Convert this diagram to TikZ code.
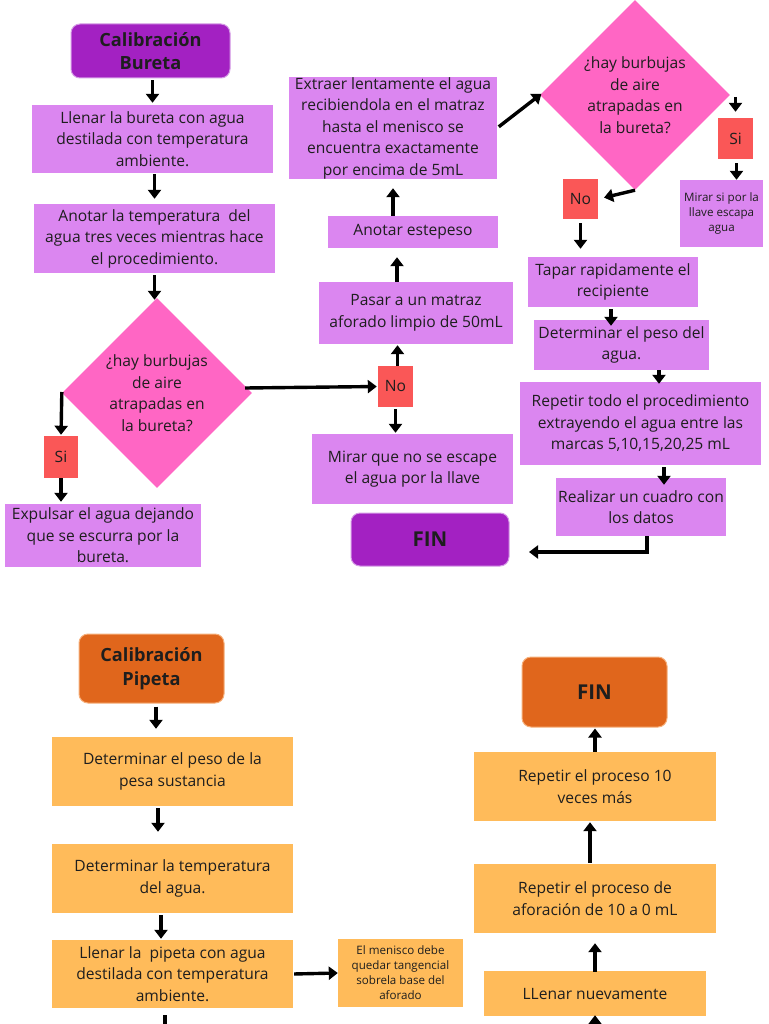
\documentclass[tikz,border=0pt]{standalone}
\usepackage{fontspec}
\setmainfont{Open Sans}
\usetikzlibrary{arrows.meta,shapes.geometric}
\definecolor{tpur}{HTML}{A321C2}
\definecolor{tpurl}{HTML}{D59BE6}
\definecolor{lpur}{HTML}{DB86F0}
\definecolor{pink}{HTML}{FF66C4}
\definecolor{redb}{HTML}{FA5757}
\definecolor{torng}{HTML}{E0661C}
\definecolor{torngl}{HTML}{F6B07C}
\definecolor{lorng}{HTML}{FFBB5A}
\definecolor{txt}{HTML}{1E1E1E}
\begin{document}
\begin{tikzpicture}[x=1pt,y=-1pt,
  sz/.style 2 args={minimum width=#1, minimum height=#2},
  base/.style={rectangle, inner sep=0pt, align=center, text=txt,
    font=\fontsize{15.6}{21.5}\selectfont},
  pbox/.style={base, fill=lpur},
  obox/.style={base, fill=lorng},
  small/.style={font=\fontsize{11.6}{15}\selectfont},
  tbox/.style={base, rounded corners=9pt, line width=1pt,
    font=\bfseries\fontsize{18.2}{23.5}\selectfont},
  ptitle/.style={tbox, fill=tpur, draw=tpurl},
  otitle/.style={tbox, fill=torng, draw=torngl},
  fintext/.style={font=\bfseries\fontsize{20.5}{22}\selectfont},
  dia/.style={diamond, fill=pink, inner sep=0pt, aspect=1, align=center,
    text=txt, font=\fontsize{15.6}{21.5}\selectfont, minimum width=190, minimum height=190},
  lab/.style={base, fill=redb},
  arr/.style={line width=3.4pt, -{Triangle[width=13pt,length=9pt]}}
]
\useasboundingbox[fill=white] (0,0) rectangle (768,1024);

% ---------- Bureta ----------
\node[ptitle, sz={159}{54}] (tB) at (150.5,51) {Calibración\\Bureta};
\node[pbox, sz={241}{68}] (b1) at (152.5,139) {Llenar la bureta con agua\\destilada con temperatura\\ambiente.};
\node[pbox, sz={241}{69}] (b2) at (154.5,238.5) {Anotar la temperatura~ del\\agua tres veces mientras hace\\el procedimiento.};
\node[dia] (d1) at (157,393) {¿hay burbujas\\de aire\\atrapadas en\\la bureta?};
\node[lab, sz={34}{42}] (si1) at (61,457) {Si};
\node[pbox, sz={196}{63}] (e1) at (103,535.5) {Expulsar el agua dejando\\que se escurra por la\\bureta.};
\node[lab, sz={35}{41}] (no1) at (395.5,386.5) {No};
\node[pbox, sz={194}{62}] (p1) at (416,313) {Pasar a un matraz\\aforado limpio de 50mL};
\node[pbox, sz={201}{70}] (m1) at (412.5,469) {Mirar que no se escape\\el agua por la llave};
\node[pbox, sz={170}{32}] (a1) at (413,232) {Anotar estepeso};
\node[pbox, sz={208}{102}] (x1) at (393,128) {Extraer lentamente el agua\\recibiendola en el matraz\\hasta el menisco se\\encuentra exactamente\\por encima de 5mL};
\node[dia] (d2) at (635,95) {¿hay burbujas\\de aire\\atrapadas en\\la bureta?};
\node[lab, sz={35}{40}] (no2) at (580.5,199) {No};
\node[lab, sz={35}{41}] (si2) at (735.5,138.5) {Si};
\node[pbox, small, sz={83}{67}] (ms) at (721.5,213.5) {Mirar si por la\\llave escapa\\agua};
\node[pbox, sz={170}{50}] (t2) at (613,282) {Tapar rapidamente el\\recipiente};
\node[pbox, sz={175}{50}] (dp) at (621.5,345) {Determinar el peso del\\agua.};
\node[pbox, sz={241}{83}] (rp) at (640.5,423.5) {Repetir todo el procedimiento\\extrayendo el agua entre las\\marcas 5,10,15,20,25 mL};
\node[pbox, sz={170}{58}] (rc) at (641,507) {Realizar un cuadro con\\los datos};
\node[ptitle, fintext, sz={158}{53}] (fin1) at (430,539.5) {FIN};

% ---------- Pipeta ----------
\node[otitle, sz={145}{69}] (tP) at (151.5,668.5) {Calibración\\Pipeta};
\node[obox, sz={241}{69}] (q1) at (172.5,771.5) {Determinar el peso de la\\pesa sustancia};
\node[obox, sz={241}{69}] (q2) at (172.5,878.5) {Determinar la temperatura\\del agua.};
\node[obox, sz={241}{68}] (q3) at (172.5,974) {Llenar la~ pipeta con agua\\destilada con temperatura\\ambiente.};
\node[obox, small, sz={125}{68}] (mn) at (400.5,973) {El menisco debe\\quedar tangencial\\sobrela base del\\aforado};
\node[otitle, fintext, sz={145}{70}] (fin2) at (594.5,692) {FIN};
\node[obox, sz={242}{69}] (r1) at (595,786.5) {Repetir el proceso 10\\veces más};
\node[obox, sz={242}{69}] (r2) at (595,898.5) {Repetir el proceso de\\aforación de 10 a 0 mL};
\node[obox, sz={222}{45}] (ln) at (595,993.5) {LLenar nuevamente};

% ---------- connectors (Bureta) ----------
\draw[arr, shorten <=2, shorten >=2] (tB.south -| b1.north) -- (b1.north);
\draw[arr, shorten <=1, shorten >=5] (b2.north |- b1.south) -- (b2.north);
\draw[arr, shorten <=2, shorten >=-2] (b2.south) -- (b2.south |- d1.north);
\draw[arr, shorten <=-1, shorten >=1] (d1.west) -- (si1.north);
\draw[arr, shorten >=2] (si1.south) -- (si1.south |- e1.north);
\draw[arr, shorten >=1] ([shift={(-7,-5)}]d1.east) -- (no1.west);
\draw[arr, shorten >=1] ([xshift=2]no1.north) -- ([xshift=2]no1.north |- p1.south);
\draw[arr, shorten <=2, shorten >=1] (no1.south) -- (no1.south |- m1.north);
\draw[arr, shorten >=9] ([xshift=-19]p1.north) -- ([xshift=-19]p1.north |- a1.south);
\draw[arr, shorten >=9] (a1.north -| x1.south) -- (x1.south);
\draw[arr, shorten <=2, shorten >=-2] (x1.east) -- (d2.west);
\draw[arr, shorten >=6] (d2.south) -- (no2.east);
\draw[arr, shorten <=4, shorten >=8] (no2.south) -- (no2.south |- t2.north);
\draw[arr, shorten <=2, shorten >=6] (d2.east -| si2.north) -- (si2.north);
\draw[arr, shorten <=4] ([xshift=1]si2.south) -- ([xshift=1]si2.south |- ms.north);
\draw[arr, shorten <=2, shorten >=-6] ([xshift=-2]t2.south) -- ([xshift=-2]t2.south |- dp.north);
\draw[arr, shorten >=-2] ([xshift=37.5]dp.south) -- ([xshift=37.5]dp.south |- rp.north);
\draw[arr, shorten <=2, shorten >=-7] ([xshift=23.5]rp.south) -- ([xshift=23.5]rp.south |- rc.north);
\coordinate (f1r) at (529,552);
\draw[arr] ([xshift=6]rc.south) |- (f1r);

% ---------- connectors (Pipeta) ----------
\draw[arr, shorten <=3, shorten >=8] ([xshift=4.5]tP.south) -- ([xshift=4.5]tP.south |- q1.north);
\draw[arr, shorten <=2, shorten >=12] ([xshift=-14.5]q1.south) -- ([xshift=-14.5]q1.south |- q2.north);
\draw[arr, shorten <=2, shorten >=1] ([xshift=-11.5]q2.south) -- ([xshift=-11.5]q2.south |- q3.north);
\draw[arr, shorten <=1] (q3.east) -- (mn.west);
\coordinate (q3d) at (165,1040);
\draw[line width=3.4pt, shorten <=7] ([xshift=-7.5]q3.south) -- (q3d);
\coordinate (lnb) at (595,1045);
\draw[arr, shorten >=-1] (lnb) -- (ln.south);
\draw[arr, shorten <=-1, shorten >=10] (ln.north) -- (ln.north |- r2.south);
\draw[arr, shorten <=1, shorten >=1] ([xshift=-5]r2.north) -- ([xshift=-5]r2.north |- r1.south);
\draw[arr, shorten >=1] (r1.north) -- (r1.north |- fin2.south);
\end{tikzpicture}
\end{document}
